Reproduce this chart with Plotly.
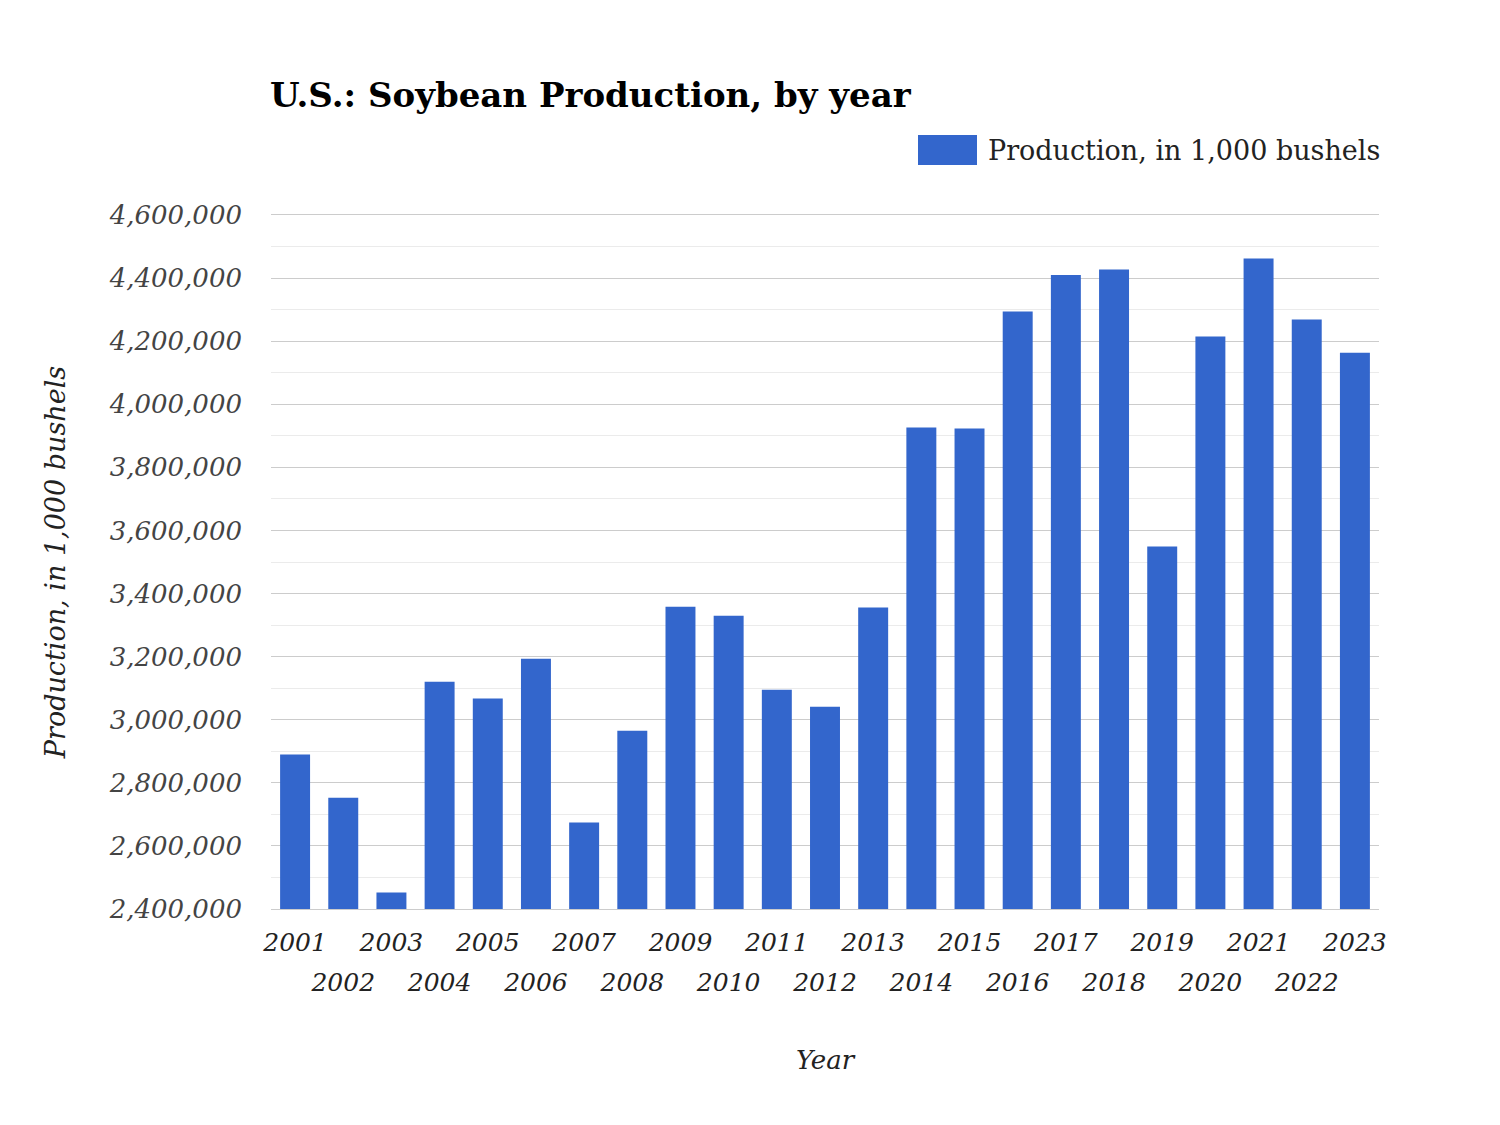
import plotly.graph_objects as go

years = list(range(2001, 2024))
production = [2890000, 2753000, 2452000, 3120000, 3067000, 3193000, 2674000, 2965000,
              3358000, 3330000, 3095000, 3041000, 3356000, 3926000, 3923000, 4294000,
              4410000, 4427000, 3549000, 4215000, 4462000, 4269000, 4163000]
odd_years = [y for y in years if y % 2 == 1]
even_years = [y for y in years if y % 2 == 0]
y_ticks = list(range(2400000, 4600001, 200000))

title_text = "U.S.: Soybean Production, by year"
series_name = "Production, in 1,000 bushels"
x_title = "Year"
y_title = "Production, in 1,000 bushels"

BLUE = "#3366CC"
FONT = "DejaVu Serif"

fig = go.Figure()
fig.add_trace(go.Bar(x=years, y=production, name=series_name, marker_color=BLUE,
                     marker_line_width=0, showlegend=False))
# invisible companion trace so the second (staggered-label) x axis is drawn
fig.add_trace(go.Scatter(x=years, y=production, xaxis="x2", yaxis="y", mode="markers",
                         marker=dict(opacity=0), hoverinfo="skip", showlegend=False))

fig.update_layout(
    width=1500, height=1125,
    margin=dict(l=271, r=121, t=215, b=216),
    paper_bgcolor="white", plot_bgcolor="white",
    bargap=0.378,
    font=dict(family=FONT, color="#222222"),
    title=dict(text="<b>" + title_text + "</b>", x=270 / 1500, xref="container", xanchor="left",
               y=1 - 95 / 1125, yref="container", yanchor="middle",
               font=dict(family=FONT, size=34, color="#000000")),
    xaxis=dict(range=[2000.5, 2023.5], tickvals=odd_years, ticktext=[str(y) for y in odd_years],
               ticks="outside", ticklen=11, tickcolor="rgba(0,0,0,0)",
               tickfont=dict(family=FONT, size=25, color="#222222", style="italic"),
               showgrid=False, zeroline=False, showline=True, mirror=True,
               linecolor="#cccccc", linewidth=1,
               title=dict(text="<i>" + x_title + "</i>", standoff=94,
                          font=dict(family=FONT, size=26, color="#222222"))),
    xaxis2=dict(range=[2000.5, 2023.5], overlaying="x", anchor="y", side="bottom",
                tickvals=even_years, ticktext=[str(y) for y in even_years],
                ticks="outside", ticklen=51, tickcolor="rgba(0,0,0,0)",
                tickfont=dict(family=FONT, size=25, color="#222222", style="italic"),
                showgrid=False, zeroline=False, showline=False),
    yaxis=dict(range=[2400000, 4600000], tickvals=y_ticks, tickformat=",",
               ticklabelstandoff=28,
               tickfont=dict(family=FONT, size=26, color="#444444", style="italic"),
               showgrid=True, gridcolor="#cccccc", gridwidth=1, zeroline=False,
               showline=False,
               minor=dict(dtick=100000, tick0=2400000, showgrid=True, gridcolor="#ebebeb", gridwidth=1),
               title=dict(text="<i>" + y_title + "</i>", standoff=35,
                          font=dict(family=FONT, size=27, color="#222222"))),
)

# legend (swatch + label) placed above the plot area, right aligned
fig.add_shape(type="rect", xref="paper", yref="paper",
              x0=(918 - 271) / 1108, x1=(977 - 271) / 1108,
              y0=1 + (215 - 165) / 694, y1=1 + (215 - 135) / 694,
              fillcolor=BLUE, line_width=0)
fig.add_annotation(text=series_name, xref="paper", yref="paper",
                   x=1.0, xanchor="right", xshift=3, y=1 + (215 - 150) / 694, yanchor="middle",
                   showarrow=False, font=dict(family=FONT, size=27, color="#222222"))

fig.write_html("out.html")
